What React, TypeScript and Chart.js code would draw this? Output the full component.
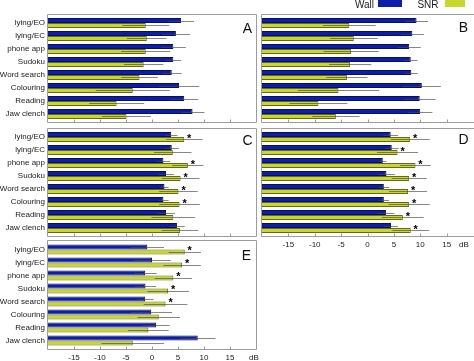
import React, { useEffect, useRef } from 'react';
import { Chart, registerables } from 'chart.js';

Chart.register(...registerables);

// ---------- data ----------
const categories = ['lying/EO', 'lying/EC', 'phone app', 'Sudoku', 'Word search', 'Colouring', 'Reading', 'Jaw clench'];
const xTickValues = [-15, -10, -5, 0, 5, 10, 15];
const seriesNames = ['Wall', 'SNR'];

const wallA = [5.6, 4.6, 4.1, 4.1, 3.8, 5.2, 6.2, 7.8];
const wallErrA = [2.5, 2.7, 2.4, 1.5, 1.9, 3.9, 2.7, 2.3];
const snrA = [-1.2, -1.0, -1.2, -1.6, -2.4, -3.7, -6.8, -4.9];
const snrErrA = [4.5, 3.8, 4.7, 3.8, 3.5, 7.1, 5.3, 4.7];

const wallB = [9.3, 8.5, 7.9, 8.2, 8.3, 10.3, 9.9, 10.0];
const wallErrB = [2.2, 2.2, 2.2, 1.3, 1.2, 3.6, 3.0, 2.3];
const snrB = [-3.45, -2.6, -3.1, -3.3, -3.9, -5.5, -9.3, -6.0];
const snrErrB = [5.0, 4.5, 5.25, 4.0, 3.9, 7.7, 5.5, 4.5];

const wallC = [3.7, 3.8, 2.2, 2.7, 2.4, 2.2, 2.7, 4.8];
const wallErrC = [1.2, 1.4, 1.3, 1.5, 0.8, 1.0, 1.7, 1.5];
const snrC = [6.2, 4.0, 6.9, 5.5, 5.1, 5.3, 4.1, 5.4];
const snrErrC = [3.5, 3.6, 3.0, 3.6, 3.7, 3.9, 4.2, 3.5];
const sigC = [1, 0, 1, 1, 1, 1, 0, 0];

const wallD = [4.4, 4.6, 2.9, 3.6, 3.1, 3.1, 3.5, 4.45];
const wallErrD = [1.4, 1.3, 0.7, 1.6, 1.0, 1.0, 1.6, 1.3];
const snrD = [8.1, 5.7, 9.1, 7.9, 7.7, 7.9, 6.7, 8.2];
const snrErrD = [3.7, 3.9, 2.9, 3.3, 3.6, 3.9, 3.95, 3.5];
const sigD = [1, 1, 1, 1, 1, 1, 1, 1];

const wallE = [-0.9, 0.0, -1.3, -1.25, -1.3, -0.15, 0.8, 8.8];
const wallErrE = [3.2, 3.6, 2.2, 2.0, 1.6, 4.0, 2.6, 3.4];
const snrE = [6.3, 5.8, 4.1, 3.1, 2.6, 1.3, -0.7, -3.7];
const snrErrE = [3.1, 3.6, 3.6, 4.0, 4.2, 4.1, 3.9, 6.0];
const sigE = [1, 1, 1, 1, 1, 0, 0, 0];

// ---------- styles ----------
const W = 474;
const H = 361;
const FONT = '"Liberation Sans", Arial, Helvetica, sans-serif';
const BLUE = '#0e1ea8';
const BLUE_EDGE = '#06105e';
const YELLOW = '#c8d62e';
const YELLOW_EDGE = '#646a1c';
const ERR_COLOR = 'rgba(70,70,70,0.65)';
const FRAME = '#9c9c9c';
const TEXT = '#1a1a1a';

type Panel = {
  key: string;
  letter: string;
  wall: number[];
  wallErr: number[];
  snr: number[];
  snrErr: number[];
  sig: number[] | null;
  side: 'left' | 'right';
  areaTop: number;
  areaBottom: number;
  showX: boolean;
  xPad: number;
  letterX: number;
  letterY: number;
  dbOffset: number;
  legend: boolean;
};

const LEFT = { l: 48, r: 256 };
const RIGHT = { l: 262, r: 473 };

const panels: Panel[] = [
  { key: 'A', letter: 'A', wall: wallA, wallErr: wallErrA, snr: snrA, snrErr: snrErrA, sig: null, side: 'left', areaTop: 16.5, areaBottom: 120.5, showX: false, xPad: 0, letterX: 247.5, letterY: 29, dbOffset: 0, legend: false },
  { key: 'B', letter: 'B', wall: wallB, wallErr: wallErrB, snr: snrB, snrErr: snrErrB, sig: null, side: 'right', areaTop: 16.5, areaBottom: 120.5, showX: false, xPad: 0, letterX: 463.5, letterY: 28.5, dbOffset: 0, legend: true },
  { key: 'C', letter: 'C', wall: wallC, wallErr: wallErrC, snr: snrC, snrErr: snrErrC, sig: sigC, side: 'left', areaTop: 130.5, areaBottom: 234.5, showX: false, xPad: 0, letterX: 247.5, letterY: 141, dbOffset: 0, legend: false },
  { key: 'D', letter: 'D', wall: wallD, wallErr: wallErrD, snr: snrD, snrErr: snrErrD, sig: sigD, side: 'right', areaTop: 130.5, areaBottom: 234.5, showX: true, xPad: 5, letterX: 463.5, letterY: 140.5, dbOffset: 9, legend: false },
  { key: 'E', letter: 'E', wall: wallE, wallErr: wallErrE, snr: snrE, snrErr: snrErrE, sig: sigE, side: 'left', areaTop: 243, areaBottom: 347, showX: true, xPad: 6, letterX: 246.5, letterY: 256, dbOffset: 2, legend: false },
];

function decorPlugin(p: Panel) {
  return {
    id: 'decor' + p.key,
    afterDatasetsDraw(chart: any) {
      const ctx: CanvasRenderingContext2D = chart.ctx;
      const xs = chart.scales.x;
      const area = chart.chartArea;
      ctx.save();

      // error bars
      const vals = [p.wall, p.snr];
      const errs = [p.wallErr, p.snrErr];
      ctx.strokeStyle = ERR_COLOR;
      ctx.lineWidth = 1;
      for (let d = 0; d < 2; d++) {
        const meta = chart.getDatasetMeta(d);
        meta.data.forEach((el: any, i: number) => {
          const y = Math.round(el.y) + 0.5;
          const x1 = xs.getPixelForValue(vals[d][i] - errs[d][i]);
          const x2 = xs.getPixelForValue(vals[d][i] + errs[d][i]);
          ctx.beginPath();
          ctx.moveTo(x1, y);
          ctx.lineTo(x2, y);
          ctx.stroke();
        });
      }

      // significance stars
      if (p.sig) {
        const meta = chart.getDatasetMeta(1);
        ctx.fillStyle = '#000';
        ctx.font = 'bold 11px ' + FONT;
        ctx.textAlign = 'center';
        ctx.textBaseline = 'middle';
        meta.data.forEach((el: any, i: number) => {
          if (p.sig && p.sig[i]) ctx.fillText('*', el.x + 5, el.y - 1);
        });
      }

      // frame
      const top = Math.floor(area.top - 2.5) + 0.5;
      const bottom = Math.ceil(area.bottom + 2.5) - 0.5;
      const left = Math.round(area.left) - 0.5;
      const right = Math.round(area.right) + 0.5;
      ctx.strokeStyle = FRAME;
      ctx.lineWidth = 1;
      ctx.beginPath();
      if (p.side === 'right') {
        ctx.moveTo(right + 3, top);
        ctx.lineTo(left, top);
        ctx.lineTo(left, bottom);
        ctx.lineTo(right + 3, bottom);
      } else {
        ctx.rect(left, top, right - left, bottom - top);
      }
      ctx.stroke();
      // inner ticks at bottom
      ctx.beginPath();
      xTickValues.forEach((v) => {
        const x = Math.round(xs.getPixelForValue(v)) + 0.5;
        ctx.moveTo(x, bottom);
        ctx.lineTo(x, bottom - 3);
      });
      ctx.stroke();

      // panel letter
      ctx.fillStyle = '#111';
      ctx.font = '14px ' + FONT;
      ctx.textAlign = 'center';
      ctx.textBaseline = 'middle';
      ctx.fillText(p.letter, p.letterX, p.letterY);

      // dB unit
      if (p.showX) {
        ctx.font = '8px ' + FONT;
        ctx.fillStyle = TEXT;
        ctx.fillText('dB', xs.getPixelForValue(20) - p.dbOffset, xs.top + p.xPad + 4.8);
      }

      // legend
      if (p.legend) {
        ctx.font = '10px ' + FONT;
        ctx.textAlign = 'center';
        ctx.textBaseline = 'alphabetic';
        ctx.fillStyle = TEXT;
        ctx.fillText(seriesNames[0], 364.5, 8);
        ctx.fillText(seriesNames[1], 428, 8);
        ctx.fillStyle = BLUE;
        ctx.fillRect(378, 0, 24, 7);
        ctx.fillStyle = YELLOW;
        ctx.fillRect(445, 0, 20, 7);
      }
      ctx.restore();
    },
  };
}

function buildConfig(p: Panel): any {
  const cols = p.side === 'left' ? LEFT : RIGHT;
  const xAxisH = p.showX ? 14 : 0;
  const isLeft = p.side === 'left';
  return {
    type: 'bar',
    data: {
      labels: categories,
      datasets: [
        { label: seriesNames[0], data: p.wall, backgroundColor: BLUE, borderColor: BLUE_EDGE, borderWidth: 1, base: -20 },
        { label: seriesNames[1], data: p.snr, backgroundColor: YELLOW, borderColor: YELLOW_EDGE, borderWidth: 1, base: -20 },
      ],
    },
    options: {
      indexAxis: 'y',
      responsive: false,
      animation: false,
      devicePixelRatio: 1,
      events: [],
      layout: {
        padding: {
          left: isLeft ? 0 : cols.l,
          right: W - cols.r,
          top: p.areaTop,
          bottom: H - p.areaBottom - xAxisH,
        },
      },
      datasets: { bar: { categoryPercentage: 0.76, barPercentage: 1.0 } },
      plugins: { legend: { display: false }, tooltip: { enabled: false } },
      scales: {
        x: {
          type: 'linear',
          min: -20,
          max: 20,
          display: p.showX,
          grid: { display: false, drawTicks: false },
          border: { display: false },
          ticks: {
            stepSize: 5,
            padding: p.xPad,
            color: TEXT,
            font: { family: FONT, size: 8 },
            maxRotation: 0,
            autoSkip: false,
            callback: (v: any) => (v === -20 || v === 20 ? '' : String(v)),
          },
          afterFit: (s: any) => {
            s.height = xAxisH;
            s.paddingLeft = 0;
            s.paddingRight = 0;
          },
        },
        y: {
          type: 'category',
          display: isLeft,
          grid: { display: false, drawTicks: false },
          border: { display: false },
          ticks: { padding: 3, color: TEXT, font: { family: FONT, size: 8 }, autoSkip: false },
          afterFit: (s: any) => {
            s.width = isLeft ? cols.l : 0;
            s.paddingTop = 0;
            s.paddingBottom = 0;
          },
        },
      },
    },
    plugins: [decorPlugin(p)],
  };
}

function PanelChart({ p }: { p: Panel }) {
  const ref = useRef<HTMLCanvasElement>(null);
  useEffect(() => {
    if (!ref.current) return;
    const chart = new Chart(ref.current, buildConfig(p));
    return () => chart.destroy();
  }, [p]);
  return (
    <canvas
      ref={ref}
      width={W}
      height={H}
      style={{ position: 'absolute', left: 0, top: 0, width: W, height: H }}
    />
  );
}

export default function App() {
  return (
    <div style={{ position: 'fixed', left: 0, top: 0, width: W, height: H, overflow: 'hidden', background: '#fff' }}>
      {panels.map((p) => (
        <PanelChart key={p.key} p={p} />
      ))}
    </div>
  );
}
